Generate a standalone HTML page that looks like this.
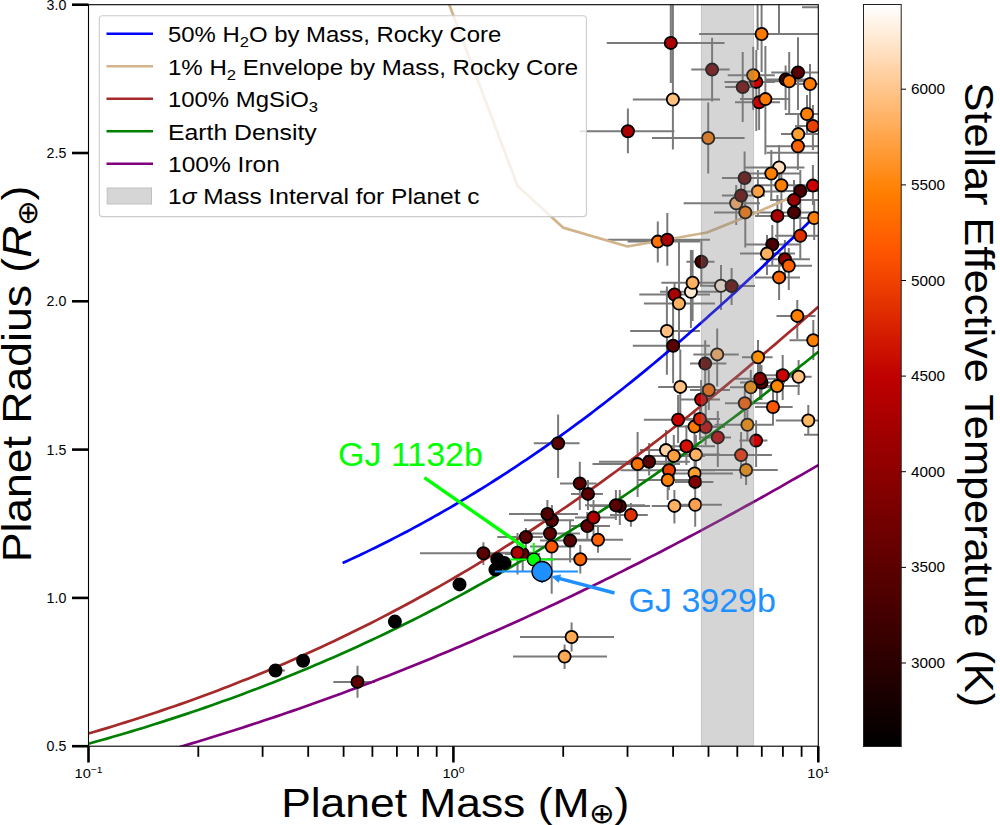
<!DOCTYPE html>
<html><head><meta charset="utf-8"><title>Mass-Radius Diagram</title>
<style>html,body{margin:0;padding:0;background:#fff;overflow:hidden;width:1000px;height:825px;}svg{display:block;}text{font-family:"Liberation Sans", sans-serif;}</style>
</head><body>
<svg width="1000" height="825" viewBox="0 0 1000 825">
<defs><clipPath id="ax"><rect x="88.5" y="4.7" width="729.8" height="741.5"/></clipPath>
<linearGradient id="cb" x1="0" y1="0" x2="0" y2="1"><stop offset="0.00" stop-color="#ffffff"/><stop offset="0.01" stop-color="#fffbf7"/><stop offset="0.02" stop-color="#fff5eb"/><stop offset="0.03" stop-color="#fff1e3"/><stop offset="0.04" stop-color="#ffebd7"/><stop offset="0.05" stop-color="#ffe7cf"/><stop offset="0.06" stop-color="#ffe1c3"/><stop offset="0.07" stop-color="#ffddbb"/><stop offset="0.08" stop-color="#ffd7af"/><stop offset="0.09" stop-color="#ffd1a3"/><stop offset="0.10" stop-color="#ffcd9b"/><stop offset="0.11" stop-color="#ffc78f"/><stop offset="0.12" stop-color="#ffc387"/><stop offset="0.13" stop-color="#ffbd7b"/><stop offset="0.14" stop-color="#ffb973"/><stop offset="0.15" stop-color="#ffb367"/><stop offset="0.16" stop-color="#ffaf5f"/><stop offset="0.17" stop-color="#ffa953"/><stop offset="0.18" stop-color="#ffa347"/><stop offset="0.19" stop-color="#ff9f3f"/><stop offset="0.20" stop-color="#ff9933"/><stop offset="0.21" stop-color="#ff952b"/><stop offset="0.22" stop-color="#ff8f1f"/><stop offset="0.23" stop-color="#ff8b17"/><stop offset="0.24" stop-color="#ff850b"/><stop offset="0.25" stop-color="#ff8103"/><stop offset="0.26" stop-color="#ff7b00"/><stop offset="0.27" stop-color="#ff7500"/><stop offset="0.28" stop-color="#ff7100"/><stop offset="0.29" stop-color="#ff6b00"/><stop offset="0.30" stop-color="#ff6700"/><stop offset="0.31" stop-color="#ff6100"/><stop offset="0.32" stop-color="#ff5d00"/><stop offset="0.33" stop-color="#ff5700"/><stop offset="0.34" stop-color="#fc5100"/><stop offset="0.35" stop-color="#f94d00"/><stop offset="0.36" stop-color="#f44700"/><stop offset="0.37" stop-color="#f24300"/><stop offset="0.38" stop-color="#ed3d00"/><stop offset="0.39" stop-color="#ea3900"/><stop offset="0.40" stop-color="#e53300"/><stop offset="0.41" stop-color="#e22f00"/><stop offset="0.42" stop-color="#de2900"/><stop offset="0.43" stop-color="#da2300"/><stop offset="0.44" stop-color="#d61f00"/><stop offset="0.45" stop-color="#d21900"/><stop offset="0.46" stop-color="#cf1500"/><stop offset="0.47" stop-color="#cb0f00"/><stop offset="0.48" stop-color="#c80b00"/><stop offset="0.49" stop-color="#c30500"/><stop offset="0.50" stop-color="#c00100"/><stop offset="0.51" stop-color="#bb0000"/><stop offset="0.52" stop-color="#b70000"/><stop offset="0.53" stop-color="#b40000"/><stop offset="0.54" stop-color="#b00000"/><stop offset="0.55" stop-color="#ac0000"/><stop offset="0.56" stop-color="#a80000"/><stop offset="0.57" stop-color="#a50000"/><stop offset="0.58" stop-color="#a00000"/><stop offset="0.59" stop-color="#9c0000"/><stop offset="0.60" stop-color="#990000"/><stop offset="0.61" stop-color="#940000"/><stop offset="0.62" stop-color="#920000"/><stop offset="0.63" stop-color="#8d0000"/><stop offset="0.64" stop-color="#8a0000"/><stop offset="0.65" stop-color="#850000"/><stop offset="0.66" stop-color="#820000"/><stop offset="0.67" stop-color="#7e0000"/><stop offset="0.68" stop-color="#7a0000"/><stop offset="0.69" stop-color="#760000"/><stop offset="0.70" stop-color="#720000"/><stop offset="0.71" stop-color="#6f0000"/><stop offset="0.72" stop-color="#6a0000"/><stop offset="0.73" stop-color="#680000"/><stop offset="0.74" stop-color="#630000"/><stop offset="0.75" stop-color="#600000"/><stop offset="0.76" stop-color="#5b0000"/><stop offset="0.77" stop-color="#570000"/><stop offset="0.78" stop-color="#540000"/><stop offset="0.79" stop-color="#500000"/><stop offset="0.80" stop-color="#4d0000"/><stop offset="0.81" stop-color="#480000"/><stop offset="0.82" stop-color="#450000"/><stop offset="0.83" stop-color="#400000"/><stop offset="0.84" stop-color="#3c0000"/><stop offset="0.85" stop-color="#390000"/><stop offset="0.86" stop-color="#350000"/><stop offset="0.87" stop-color="#310000"/><stop offset="0.88" stop-color="#2d0000"/><stop offset="0.89" stop-color="#2a0000"/><stop offset="0.90" stop-color="#260000"/><stop offset="0.91" stop-color="#220000"/><stop offset="0.92" stop-color="#1e0000"/><stop offset="0.93" stop-color="#1a0000"/><stop offset="0.94" stop-color="#160000"/><stop offset="0.95" stop-color="#120000"/><stop offset="0.96" stop-color="#0f0000"/><stop offset="0.97" stop-color="#0a0000"/><stop offset="0.98" stop-color="#080000"/><stop offset="0.99" stop-color="#030000"/><stop offset="1.00" stop-color="#000000"/></linearGradient></defs>
<rect width="1000" height="825" fill="#fff"/>
<g clip-path="url(#ax)">
<path d="M272.0 670.5H284.9M275.5 668.0V673.0M300.0 660.7H306.0M303.1 658.0V663.0M333.3 681.9H375.0M357.5 665.8V697.8M392.0 621.6H398.0M394.9 619.0V624.0M456.0 584.4H462.0M459.5 582.0V587.0M420.0 553.3H511.8M483.4 542.3V565.0M494.0 559.2H500.0M497.3 556.0V562.0M501.0 563.1H507.0M504.5 560.0V566.0M492.0 569.6H498.0M495.4 567.0V572.0M505.0 554.0H540.0M522.7 540.0V572.0M497.0 552.7H537.0M517.5 533.0V574.6M497.3 537.1H542.8M525.9 528.0V560.0M524.0 520.2H574.0M551.9 505.0V545.0M509.0 514.0H578.0M547.4 500.0V528.0M520.0 533.5H580.0M550.0 520.0V548.0M530.0 546.6H575.0M551.7 530.0V593.8M540.0 540.6H600.0M570.1 519.5V562.4M540.4 559.2H630.9M580.3 544.9V573.5M570.0 526.0H610.0M587.3 512.0V540.0M575.0 517.6H615.0M593.5 500.0V535.0M575.0 539.7H623.0M598.0 526.0V552.7M520.0 637.0H614.0M571.6 622.4V651.6M513.0 656.6H607.0M564.6 644.4V669.0M533.8 443.2H579.5M558.1 414.5V477.9M560.0 483.4H596.7M579.8 461.8V510.0M571.0 493.9H602.9M588.0 480.0V510.0M590.0 506.0H650.0M619.8 490.0V525.0M585.0 505.3H645.0M615.9 490.0V520.0M610.0 515.0H647.8M630.9 503.0V526.7M651.7 505.9H700.0M674.4 490.0V523.4M592.5 464.1H680.0M637.6 431.9V496.9M599.0 461.8H690.0M649.1 442.9V475.4M640.0 450.1H700.0M666.0 430.0V470.0M645.0 455.9H705.0M673.8 435.0V480.0M660.0 446.2H715.0M686.4 425.0V465.0M620.5 470.2H715.0M669.0 455.0V490.0M636.7 480.0H700.0M667.7 465.0V500.0M643.9 419.8H710.0M678.1 395.0V442.9M606.8 42.9H724.5M670.8 4.7V83.0M632.8 99.5H720.0M672.9 4.7V149.4M579.5 131.2H674.4M627.9 108.5V153.3M627.6 241.6H700.0M657.8 221.5V262.4M607.5 239.7H710.0M667.3 213.0V265.7M639.3 294.5H710.0M674.5 282.0V305.0M643.9 303.5H715.0M679.0 240.0V350.0M660.0 291.8H720.0M690.9 250.0V328.0M661.4 282.7H720.0M692.6 250.0V321.0M630.2 331.0H700.0M666.9 286.5V374.8M632.8 345.8H710.0M673.1 300.0V383.2M658.2 386.9H705.0M680.3 349.4V420.0M691.3 69.6H729.7M712.1 37.7V101.4M699.1 34.0H818.3M761.6 4.7V72.0M725.1 87.1H753.7M742.7 52.0V122.0M724.5 81.9H774.8M756.3 50.0V131.0M727.7 75.2H774.8M753.2 46.8V110.0M771.2 72.4H818.3M798.0 37.2V110.0M765.0 79.6H810.0M785.6 65.6V110.0M765.0 81.2H815.0M789.2 52.0V115.0M790.0 84.0H818.3M810.0 64.0V110.0M735.0 102.3H780.0M759.1 80.0V130.0M740.0 99.1H790.0M765.4 46.0V154.6M652.0 138.0H744.6M708.2 102.6V173.5M785.0 114.0H818.3M807.0 95.0V135.0M795.0 126.0H818.3M812.9 105.0V150.0M781.0 134.1H818.3M798.2 115.0V155.0M764.8 146.2H818.3M797.9 125.0V170.0M744.6 167.4H804.4M779.1 145.0V190.0M745.0 173.5H800.0M771.3 150.0V200.0M721.9 178.0H770.0M744.6 151.4V210.0M735.0 191.4H785.0M757.9 170.0V215.0M755.0 185.2H805.0M781.4 165.0V210.0M683.6 203.3H760.0M736.2 185.0V225.0M721.9 195.6H765.0M741.1 175.0V220.0M780.0 191.0H818.3M800.3 170.0V215.0M770.0 199.9H818.3M794.0 180.0V220.0M795.0 185.6H818.3M812.9 165.0V205.0M714.0 212.4H770.0M745.3 195.0V247.5M755.0 215.9H800.0M777.4 195.0V240.0M770.0 212.4H818.3M794.0 190.0V235.0M795.0 218.0H818.3M814.2 200.0V240.0M775.0 235.8H818.3M800.3 215.0V260.0M745.0 244.5H800.0M772.3 225.0V265.0M740.0 253.6H795.0M767.0 235.0V275.0M760.0 259.2H810.0M784.9 240.0V280.0M765.0 265.7H812.0M788.8 248.0V290.0M755.0 277.4H800.0M779.1 260.0V300.0M686.4 261.8H714.5M701.4 240.0V285.0M700.0 285.8H745.0M721.0 265.0V310.0M710.0 286.1H755.0M731.6 268.0V305.0M776.5 315.9H815.5M797.3 300.0V339.0M789.5 340.3H818.3M813.3 320.0V360.0M693.3 354.4H738.8M717.2 328.6V386.5M690.0 363.6H726.4M705.2 340.3V390.0M742.0 357.2H772.6M758.0 340.0V380.0M740.0 382.6H785.0M761.5 365.0V400.0M735.0 378.7H785.0M760.0 360.0V400.0M760.0 375.2H805.0M782.7 355.0V400.0M780.0 376.7H811.6M798.6 360.0V395.0M755.0 386.1H800.0M777.1 370.0V405.0M730.0 387.2H775.0M750.8 370.0V405.0M690.0 390.0H730.0M708.8 370.0V410.0M680.0 399.5H720.0M701.1 380.0V420.0M725.0 403.2H770.0M744.8 390.0V420.0M755.0 407.0H792.7M773.0 390.0V425.4M775.8 420.5H818.3M808.3 405.0V435.0M675.0 426.6H715.0M694.5 410.0V445.0M685.0 427.1H725.0M705.7 405.0V445.0M680.0 419.0H720.0M699.9 400.0V440.0M700.0 437.4H731.0M717.8 411.0V467.0M714.7 424.8H773.2M747.4 410.0V440.0M739.4 440.6H767.4M756.1 420.2V467.0M703.0 455.1H771.9M741.1 431.9V478.7M675.0 454.6H720.0M695.9 435.0V475.0M700.4 469.9H777.8M746.1 455.0V485.0M675.0 473.5H732.9M694.6 455.0V490.0M675.0 481.9H713.4M695.2 465.0V500.0M670.0 504.7H721.9M695.2 490.0V526.7M779 4.7V34M802 7.2H818.3M757.6 4.7V50M804 434.8H818.3M766.8 152.7H818.3" stroke="#000" stroke-opacity="0.52" stroke-width="2" fill="none"/>
<polyline points="342.6,563.1 346.6,561.3 350.6,559.4 354.6,557.6 358.6,555.7 362.6,553.8 366.6,551.9 370.6,549.9 374.6,548.0 378.6,546.0 382.6,544.0 386.6,542.0 390.6,540.0 394.6,537.9 398.6,535.9 402.6,533.8 406.6,531.7 410.6,529.6 414.6,527.4 418.6,525.3 422.5,523.1 426.5,520.9 430.5,518.7 434.5,516.4 438.5,514.2 442.5,511.9 446.5,509.6 450.5,507.3 454.5,505.0 458.5,502.6 462.5,500.2 466.5,497.8 470.5,495.4 474.5,493.0 478.5,490.5 482.5,488.1 486.5,485.6 490.5,483.1 494.5,480.5 498.5,478.0 502.5,475.4 506.5,472.8 510.5,470.2 514.5,467.6 518.5,464.9 522.5,462.2 526.5,459.6 530.5,456.8 534.5,454.1 538.5,451.4 542.5,448.6 546.5,445.8 550.5,443.0 554.5,440.2 558.5,437.3 562.5,434.4 566.5,431.5 570.5,428.6 574.5,425.7 578.5,422.7 582.4,419.8 586.4,416.8 590.4,413.8 594.4,410.7 598.4,407.7 602.4,404.6 606.4,401.5 610.4,398.4 614.4,395.3 618.4,392.1 622.4,389.0 626.4,385.8 630.4,382.6 634.4,379.4 638.4,376.1 642.4,372.9 646.4,369.6 650.4,366.3 654.4,363.0 658.4,359.6 662.4,356.3 666.4,352.9 670.4,349.5 674.4,346.1 678.4,342.7 682.4,339.2 686.4,335.8 690.4,332.3 694.4,328.8 698.4,325.3 702.4,321.7 706.4,318.2 710.4,314.6 714.4,311.1 718.4,307.5 722.4,303.8 726.4,300.2 730.4,296.6 734.4,292.9 738.4,289.2 742.3,285.6 746.3,281.8 750.3,278.1 754.3,274.4 758.3,270.7 762.3,266.9 766.3,263.1 770.3,259.3 774.3,255.5 778.3,251.7 782.3,247.9 786.3,244.1 790.3,240.2 794.3,236.4 798.3,232.5 802.3,228.6 806.3,224.7 810.3,220.8 814.3,216.9 818.3,213.0" fill="none" stroke="#0000ff" stroke-width="2.7" stroke-linejoin="round"/>
<polyline points="447.5,0.0 517.6,186.0 563.0,227.6 627.5,246.5 707.0,232.5 752.4,214.3 785.0,200.0 806.4,186.8" fill="none" stroke="#d2b48c" stroke-width="2.7" stroke-linejoin="round"/>
<polyline points="88.5,733.5 94.6,731.7 100.8,729.9 106.9,728.1 113.0,726.2 119.2,724.3 125.3,722.4 131.4,720.5 137.6,718.5 143.7,716.5 149.8,714.5 156.0,712.5 162.1,710.4 168.2,708.3 174.4,706.2 180.5,704.1 186.6,701.9 192.8,699.7 198.9,697.5 205.0,695.2 211.2,693.0 217.3,690.7 223.4,688.3 229.6,686.0 235.7,683.6 241.8,681.1 248.0,678.7 254.1,676.2 260.2,673.7 266.4,671.2 272.5,668.6 278.6,666.0 284.7,663.4 290.9,660.7 297.0,658.0 303.1,655.3 309.3,652.5 315.4,649.7 321.5,646.9 327.7,644.1 333.8,641.2 339.9,638.3 346.1,635.3 352.2,632.3 358.3,629.3 364.5,626.3 370.6,623.2 376.7,620.1 382.9,616.9 389.0,613.8 395.1,610.5 401.3,607.3 407.4,604.0 413.5,600.7 419.7,597.3 425.8,594.0 431.9,590.5 438.1,587.1 444.2,583.6 450.3,580.1 456.5,576.5 462.6,572.9 468.7,569.3 474.9,565.6 481.0,561.9 487.1,558.2 493.3,554.4 499.4,550.6 505.5,546.7 511.7,542.8 517.8,538.9 523.9,535.0 530.1,531.0 536.2,527.0 542.3,522.9 548.5,518.8 554.6,514.7 560.7,510.5 566.9,506.3 573.0,502.1 579.1,497.8 585.3,493.5 591.4,489.2 597.5,484.8 603.7,480.4 609.8,475.9 615.9,471.5 622.1,466.9 628.2,462.4 634.3,457.8 640.4,453.2 646.6,448.6 652.7,443.9 658.8,439.2 665.0,434.4 671.1,429.7 677.2,424.9 683.4,420.0 689.5,415.2 695.6,410.3 701.8,405.3 707.9,400.4 714.0,395.4 720.2,390.4 726.3,385.4 732.4,380.3 738.6,375.2 744.7,370.1 750.8,364.9 757.0,359.7 763.1,354.5 769.2,349.3 775.4,344.1 781.5,338.8 787.6,333.5 793.8,328.2 799.9,322.9 806.0,317.5 812.2,312.2 818.3,306.8" fill="none" stroke="#a52a2a" stroke-width="2.7" stroke-linejoin="round"/>
<polyline points="88.5,743.7 94.6,742.0 100.8,740.3 106.9,738.6 113.0,736.8 119.2,735.0 125.3,733.2 131.4,731.4 137.6,729.5 143.7,727.7 149.8,725.8 156.0,723.8 162.1,721.9 168.2,719.9 174.4,717.9 180.5,715.9 186.6,713.9 192.8,711.8 198.9,709.7 205.0,707.6 211.2,705.5 217.3,703.3 223.4,701.1 229.6,698.9 235.7,696.7 241.8,694.4 248.0,692.1 254.1,689.8 260.2,687.4 266.4,685.1 272.5,682.7 278.6,680.2 284.7,677.8 290.9,675.3 297.0,672.8 303.1,670.3 309.3,667.7 315.4,665.1 321.5,662.5 327.7,659.8 333.8,657.2 339.9,654.5 346.1,651.7 352.2,649.0 358.3,646.2 364.5,643.3 370.6,640.5 376.7,637.6 382.9,634.7 389.0,631.7 395.1,628.8 401.3,625.8 407.4,622.7 413.5,619.7 419.7,616.6 425.8,613.5 431.9,610.3 438.1,607.1 444.2,603.9 450.3,600.6 456.5,597.4 462.6,594.1 468.7,590.7 474.9,587.3 481.0,583.9 487.1,580.5 493.3,577.0 499.4,573.6 505.5,570.0 511.7,566.5 517.8,562.9 523.9,559.3 530.1,555.6 536.2,551.9 542.3,548.2 548.5,544.5 554.6,540.7 560.7,536.9 566.9,533.0 573.0,529.2 579.1,525.3 585.3,521.4 591.4,517.4 597.5,513.4 603.7,509.4 609.8,505.3 615.9,501.3 622.1,497.2 628.2,493.0 634.3,488.8 640.4,484.7 646.6,480.4 652.7,476.2 658.8,471.9 665.0,467.6 671.1,463.3 677.2,458.9 683.4,454.5 689.5,450.1 695.6,445.6 701.8,441.2 707.9,436.7 714.0,432.2 720.2,427.6 726.3,423.0 732.4,418.5 738.6,413.8 744.7,409.2 750.8,404.5 757.0,399.9 763.1,395.2 769.2,390.4 775.4,385.7 781.5,380.9 787.6,376.1 793.8,371.3 799.9,366.5 806.0,361.7 812.2,356.8 818.3,351.9" fill="none" stroke="#008000" stroke-width="2.7" stroke-linejoin="round"/>
<polyline points="152.8,754.8 158.3,753.2 163.9,751.6 169.5,750.0 175.1,748.3 180.7,746.7 186.3,745.0 191.9,743.4 197.5,741.7 203.1,740.0 208.7,738.3 214.3,736.5 219.9,734.8 225.5,733.0 231.1,731.3 236.6,729.5 242.2,727.7 247.8,725.9 253.4,724.0 259.0,722.2 264.6,720.3 270.2,718.5 275.8,716.6 281.4,714.7 287.0,712.8 292.6,710.9 298.2,708.9 303.8,707.0 309.4,705.0 314.9,703.0 320.5,701.0 326.1,699.0 331.7,697.0 337.3,694.9 342.9,692.9 348.5,690.8 354.1,688.7 359.7,686.6 365.3,684.5 370.9,682.4 376.5,680.2 382.1,678.0 387.7,675.9 393.2,673.7 398.8,671.5 404.4,669.2 410.0,667.0 415.6,664.8 421.2,662.5 426.8,660.2 432.4,657.9 438.0,655.6 443.6,653.3 449.2,650.9 454.8,648.6 460.4,646.2 466.0,643.8 471.5,641.4 477.1,639.0 482.7,636.6 488.3,634.1 493.9,631.7 499.5,629.2 505.1,626.7 510.7,624.2 516.3,621.7 521.9,619.2 527.5,616.6 533.1,614.1 538.7,611.5 544.3,608.9 549.8,606.3 555.4,603.7 561.0,601.0 566.6,598.4 572.2,595.7 577.8,593.0 583.4,590.3 589.0,587.6 594.6,584.9 600.2,582.2 605.8,579.4 611.4,576.7 617.0,573.9 622.6,571.1 628.1,568.3 633.7,565.5 639.3,562.7 644.9,559.8 650.5,556.9 656.1,554.1 661.7,551.2 667.3,548.3 672.9,545.4 678.5,542.4 684.1,539.5 689.7,536.5 695.3,533.6 700.9,530.6 706.4,527.6 712.0,524.6 717.6,521.6 723.2,518.6 728.8,515.5 734.4,512.5 740.0,509.4 745.6,506.3 751.2,503.2 756.8,500.1 762.4,497.0 768.0,493.9 773.6,490.7 779.2,487.6 784.7,484.4 790.3,481.2 795.9,478.0 801.5,474.8 807.1,471.6 812.7,468.4 818.3,465.2" fill="none" stroke="#800080" stroke-width="2.7" stroke-linejoin="round"/>
<circle cx="275.5" cy="670.5" r="6.1" fill="#000000" stroke="#000" stroke-width="1.8"/>
<circle cx="303.1" cy="660.7" r="6.1" fill="#000000" stroke="#000" stroke-width="1.8"/>
<circle cx="357.5" cy="681.9" r="6.1" fill="#600000" stroke="#000" stroke-width="1.8"/>
<circle cx="394.9" cy="621.6" r="6.1" fill="#000000" stroke="#000" stroke-width="1.8"/>
<circle cx="459.5" cy="584.4" r="6.1" fill="#000000" stroke="#000" stroke-width="1.8"/>
<circle cx="483.4" cy="553.3" r="6.1" fill="#5a0000" stroke="#000" stroke-width="1.8"/>
<circle cx="497.3" cy="559.2" r="6.1" fill="#000000" stroke="#000" stroke-width="1.8"/>
<circle cx="504.5" cy="563.1" r="6.1" fill="#000000" stroke="#000" stroke-width="1.8"/>
<circle cx="495.4" cy="569.6" r="6.1" fill="#000000" stroke="#000" stroke-width="1.8"/>
<circle cx="522.7" cy="554.0" r="6.1" fill="#6a0000" stroke="#000" stroke-width="1.8"/>
<circle cx="517.5" cy="552.7" r="6.1" fill="#b00000" stroke="#000" stroke-width="1.8"/>
<circle cx="525.9" cy="537.1" r="6.1" fill="#5a0000" stroke="#000" stroke-width="1.8"/>
<circle cx="551.9" cy="520.2" r="6.1" fill="#5a0000" stroke="#000" stroke-width="1.8"/>
<circle cx="547.4" cy="514.0" r="6.1" fill="#500000" stroke="#000" stroke-width="1.8"/>
<circle cx="550.0" cy="533.5" r="6.1" fill="#600000" stroke="#000" stroke-width="1.8"/>
<circle cx="551.7" cy="546.6" r="6.1" fill="#ff5500" stroke="#000" stroke-width="1.8"/>
<circle cx="570.1" cy="540.6" r="6.1" fill="#5a0000" stroke="#000" stroke-width="1.8"/>
<circle cx="580.3" cy="559.2" r="6.1" fill="#ff6600" stroke="#000" stroke-width="1.8"/>
<circle cx="587.3" cy="526.0" r="6.1" fill="#600000" stroke="#000" stroke-width="1.8"/>
<circle cx="593.5" cy="517.6" r="6.1" fill="#b00000" stroke="#000" stroke-width="1.8"/>
<circle cx="598.0" cy="539.7" r="6.1" fill="#ff6000" stroke="#000" stroke-width="1.8"/>
<circle cx="571.6" cy="637.0" r="6.1" fill="#ffaa55" stroke="#000" stroke-width="1.8"/>
<circle cx="564.6" cy="656.6" r="6.1" fill="#ffaa55" stroke="#000" stroke-width="1.8"/>
<circle cx="558.1" cy="443.2" r="6.1" fill="#5a0000" stroke="#000" stroke-width="1.8"/>
<circle cx="579.8" cy="483.4" r="6.1" fill="#5a0000" stroke="#000" stroke-width="1.8"/>
<circle cx="588.0" cy="493.9" r="6.1" fill="#5a0000" stroke="#000" stroke-width="1.8"/>
<circle cx="619.8" cy="506.0" r="6.1" fill="#5a0000" stroke="#000" stroke-width="1.8"/>
<circle cx="615.9" cy="505.3" r="6.1" fill="#5a0000" stroke="#000" stroke-width="1.8"/>
<circle cx="630.9" cy="515.0" r="6.1" fill="#e03000" stroke="#000" stroke-width="1.8"/>
<circle cx="674.4" cy="505.9" r="6.1" fill="#ffb060" stroke="#000" stroke-width="1.8"/>
<circle cx="637.6" cy="464.1" r="6.1" fill="#ff7000" stroke="#000" stroke-width="1.8"/>
<circle cx="649.1" cy="461.8" r="6.1" fill="#5a0000" stroke="#000" stroke-width="1.8"/>
<circle cx="666.0" cy="450.1" r="6.1" fill="#ffd0a0" stroke="#000" stroke-width="1.8"/>
<circle cx="673.8" cy="455.9" r="6.1" fill="#ffa040" stroke="#000" stroke-width="1.8"/>
<circle cx="686.4" cy="446.2" r="6.1" fill="#d81000" stroke="#000" stroke-width="1.8"/>
<circle cx="669.0" cy="470.2" r="6.1" fill="#e84000" stroke="#000" stroke-width="1.8"/>
<circle cx="667.7" cy="480.0" r="6.1" fill="#ff8000" stroke="#000" stroke-width="1.8"/>
<circle cx="678.1" cy="419.8" r="6.1" fill="#cc0000" stroke="#000" stroke-width="1.8"/>
<circle cx="670.8" cy="42.9" r="6.1" fill="#aa0000" stroke="#000" stroke-width="1.8"/>
<circle cx="672.9" cy="99.5" r="6.1" fill="#ffc080" stroke="#000" stroke-width="1.8"/>
<circle cx="627.9" cy="131.2" r="6.1" fill="#aa0000" stroke="#000" stroke-width="1.8"/>
<circle cx="657.8" cy="241.6" r="6.1" fill="#ff7000" stroke="#000" stroke-width="1.8"/>
<circle cx="667.3" cy="239.7" r="6.1" fill="#aa0000" stroke="#000" stroke-width="1.8"/>
<circle cx="674.5" cy="294.5" r="6.1" fill="#aa0000" stroke="#000" stroke-width="1.8"/>
<circle cx="679.0" cy="303.5" r="6.1" fill="#ffb060" stroke="#000" stroke-width="1.8"/>
<circle cx="690.9" cy="291.8" r="6.1" fill="#ffe8d0" stroke="#000" stroke-width="1.8"/>
<circle cx="692.6" cy="282.7" r="6.1" fill="#ffb060" stroke="#000" stroke-width="1.8"/>
<circle cx="666.9" cy="331.0" r="6.1" fill="#ffc080" stroke="#000" stroke-width="1.8"/>
<circle cx="673.1" cy="345.8" r="6.1" fill="#5a0000" stroke="#000" stroke-width="1.8"/>
<circle cx="680.3" cy="386.9" r="6.1" fill="#ffc080" stroke="#000" stroke-width="1.8"/>
<circle cx="712.1" cy="69.6" r="6.1" fill="#770000" stroke="#000" stroke-width="1.8"/>
<circle cx="761.6" cy="34.0" r="6.1" fill="#ff7800" stroke="#000" stroke-width="1.8"/>
<circle cx="742.7" cy="87.1" r="6.1" fill="#770000" stroke="#000" stroke-width="1.8"/>
<circle cx="756.3" cy="81.9" r="6.1" fill="#cc0000" stroke="#000" stroke-width="1.8"/>
<circle cx="753.2" cy="75.2" r="6.1" fill="#ff8800" stroke="#000" stroke-width="1.8"/>
<circle cx="798.0" cy="72.4" r="6.1" fill="#5a0000" stroke="#000" stroke-width="1.8"/>
<circle cx="785.6" cy="79.6" r="6.1" fill="#4a0000" stroke="#000" stroke-width="1.8"/>
<circle cx="789.2" cy="81.2" r="6.1" fill="#ff7800" stroke="#000" stroke-width="1.8"/>
<circle cx="810.0" cy="84.0" r="6.1" fill="#ff7800" stroke="#000" stroke-width="1.8"/>
<circle cx="759.1" cy="102.3" r="6.1" fill="#cc0000" stroke="#000" stroke-width="1.8"/>
<circle cx="765.4" cy="99.1" r="6.1" fill="#ff7800" stroke="#000" stroke-width="1.8"/>
<circle cx="708.2" cy="138.0" r="6.1" fill="#ff7700" stroke="#000" stroke-width="1.8"/>
<circle cx="807.0" cy="114.0" r="6.1" fill="#ff8000" stroke="#000" stroke-width="1.8"/>
<circle cx="812.9" cy="126.0" r="6.1" fill="#e84000" stroke="#000" stroke-width="1.8"/>
<circle cx="798.2" cy="134.1" r="6.1" fill="#ffa030" stroke="#000" stroke-width="1.8"/>
<circle cx="797.9" cy="146.2" r="6.1" fill="#ff6000" stroke="#000" stroke-width="1.8"/>
<circle cx="779.1" cy="167.4" r="6.1" fill="#ffe0c0" stroke="#000" stroke-width="1.8"/>
<circle cx="771.3" cy="173.5" r="6.1" fill="#ff8000" stroke="#000" stroke-width="1.8"/>
<circle cx="744.6" cy="178.0" r="6.1" fill="#600000" stroke="#000" stroke-width="1.8"/>
<circle cx="757.9" cy="191.4" r="6.1" fill="#ffa040" stroke="#000" stroke-width="1.8"/>
<circle cx="781.4" cy="185.2" r="6.1" fill="#ff8000" stroke="#000" stroke-width="1.8"/>
<circle cx="736.2" cy="203.3" r="6.1" fill="#ffb068" stroke="#000" stroke-width="1.8"/>
<circle cx="741.1" cy="195.6" r="6.1" fill="#600000" stroke="#000" stroke-width="1.8"/>
<circle cx="800.3" cy="191.0" r="6.1" fill="#4a0000" stroke="#000" stroke-width="1.8"/>
<circle cx="794.0" cy="199.9" r="6.1" fill="#990000" stroke="#000" stroke-width="1.8"/>
<circle cx="812.9" cy="185.6" r="6.1" fill="#cc0000" stroke="#000" stroke-width="1.8"/>
<circle cx="745.3" cy="212.4" r="6.1" fill="#ff7700" stroke="#000" stroke-width="1.8"/>
<circle cx="777.4" cy="215.9" r="6.1" fill="#aa0000" stroke="#000" stroke-width="1.8"/>
<circle cx="794.0" cy="212.4" r="6.1" fill="#4a0000" stroke="#000" stroke-width="1.8"/>
<circle cx="814.2" cy="218.0" r="6.1" fill="#ff8000" stroke="#000" stroke-width="1.8"/>
<circle cx="800.3" cy="235.8" r="6.1" fill="#e03000" stroke="#000" stroke-width="1.8"/>
<circle cx="772.3" cy="244.5" r="6.1" fill="#4a0000" stroke="#000" stroke-width="1.8"/>
<circle cx="767.0" cy="253.6" r="6.1" fill="#ffb060" stroke="#000" stroke-width="1.8"/>
<circle cx="784.9" cy="259.2" r="6.1" fill="#880000" stroke="#000" stroke-width="1.8"/>
<circle cx="788.8" cy="265.7" r="6.1" fill="#ff6000" stroke="#000" stroke-width="1.8"/>
<circle cx="779.1" cy="277.4" r="6.1" fill="#ff6600" stroke="#000" stroke-width="1.8"/>
<circle cx="701.4" cy="261.8" r="6.1" fill="#4a0000" stroke="#000" stroke-width="1.8"/>
<circle cx="721.0" cy="285.8" r="6.1" fill="#ffecdf" stroke="#000" stroke-width="1.8"/>
<circle cx="731.6" cy="286.1" r="6.1" fill="#600000" stroke="#000" stroke-width="1.8"/>
<circle cx="797.3" cy="315.9" r="6.1" fill="#ff8000" stroke="#000" stroke-width="1.8"/>
<circle cx="813.3" cy="340.3" r="6.1" fill="#ff8000" stroke="#000" stroke-width="1.8"/>
<circle cx="717.2" cy="354.4" r="6.1" fill="#ffb065" stroke="#000" stroke-width="1.8"/>
<circle cx="705.2" cy="363.6" r="6.1" fill="#600000" stroke="#000" stroke-width="1.8"/>
<circle cx="758.0" cy="357.2" r="6.1" fill="#ff9000" stroke="#000" stroke-width="1.8"/>
<circle cx="761.5" cy="382.6" r="6.1" fill="#5a0000" stroke="#000" stroke-width="1.8"/>
<circle cx="760.0" cy="378.7" r="6.1" fill="#8b0000" stroke="#000" stroke-width="1.8"/>
<circle cx="782.7" cy="375.2" r="6.1" fill="#cc0000" stroke="#000" stroke-width="1.8"/>
<circle cx="798.6" cy="376.7" r="6.1" fill="#ffc080" stroke="#000" stroke-width="1.8"/>
<circle cx="777.1" cy="386.1" r="6.1" fill="#ff8800" stroke="#000" stroke-width="1.8"/>
<circle cx="750.8" cy="387.2" r="6.1" fill="#ff9000" stroke="#000" stroke-width="1.8"/>
<circle cx="708.8" cy="390.0" r="6.1" fill="#ff6800" stroke="#000" stroke-width="1.8"/>
<circle cx="701.1" cy="399.5" r="6.1" fill="#cc0000" stroke="#000" stroke-width="1.8"/>
<circle cx="744.8" cy="403.2" r="6.1" fill="#ff5e00" stroke="#000" stroke-width="1.8"/>
<circle cx="773.0" cy="407.0" r="6.1" fill="#ff5500" stroke="#000" stroke-width="1.8"/>
<circle cx="808.3" cy="420.5" r="6.1" fill="#ffb860" stroke="#000" stroke-width="1.8"/>
<circle cx="694.5" cy="426.6" r="6.1" fill="#ff7a00" stroke="#000" stroke-width="1.8"/>
<circle cx="705.7" cy="427.1" r="6.1" fill="#bc0000" stroke="#000" stroke-width="1.8"/>
<circle cx="699.9" cy="419.0" r="6.1" fill="#e02000" stroke="#000" stroke-width="1.8"/>
<circle cx="717.8" cy="437.4" r="6.1" fill="#bc0000" stroke="#000" stroke-width="1.8"/>
<circle cx="747.4" cy="424.8" r="6.1" fill="#ff8f00" stroke="#000" stroke-width="1.8"/>
<circle cx="756.1" cy="440.6" r="6.1" fill="#cc0000" stroke="#000" stroke-width="1.8"/>
<circle cx="741.1" cy="455.1" r="6.1" fill="#f82d00" stroke="#000" stroke-width="1.8"/>
<circle cx="695.9" cy="454.6" r="6.1" fill="#ffb060" stroke="#000" stroke-width="1.8"/>
<circle cx="746.1" cy="469.9" r="6.1" fill="#ff8f00" stroke="#000" stroke-width="1.8"/>
<circle cx="694.6" cy="473.5" r="6.1" fill="#ffa030" stroke="#000" stroke-width="1.8"/>
<circle cx="695.2" cy="481.9" r="6.1" fill="#800000" stroke="#000" stroke-width="1.8"/>
<circle cx="695.2" cy="504.7" r="6.1" fill="#ffa050" stroke="#000" stroke-width="1.8"/>
<path d="M510.3 559.5H554.5M533.8 543V575" stroke="#00ff00" stroke-width="2"/>
<circle cx="533.8" cy="559.5" r="6.4" fill="#00ff00" stroke="#000" stroke-width="1.4"/>
<path d="M494.7 571.5H578M542 561V583" stroke="#1e90ff" stroke-width="2"/>
<circle cx="542" cy="571.5" r="10" fill="#1e90ff" stroke="#000" stroke-width="1.3"/>
<rect x="701.4" y="2.7" width="52.2" height="745.5" fill="#808080" fill-opacity="0.33" stroke="#808080" stroke-opacity="0.33" stroke-width="1"/>
</g>
<rect x="88.5" y="4.7" width="729.8" height="741.5" fill="none" stroke="#000" stroke-width="1.1"/>
<line x1="72" y1="746.2" x2="88.5" y2="746.2" stroke="#000" stroke-width="2.6"/>
<text transform="translate(66.30 751.30)" font-size="14.20" text-anchor="end" fill="#000">0.5</text>
<line x1="72" y1="597.9" x2="88.5" y2="597.9" stroke="#000" stroke-width="2.6"/>
<text transform="translate(66.30 603.00)" font-size="14.20" text-anchor="end" fill="#000">1.0</text>
<line x1="72" y1="449.6" x2="88.5" y2="449.6" stroke="#000" stroke-width="2.6"/>
<text transform="translate(66.30 454.70)" font-size="14.20" text-anchor="end" fill="#000">1.5</text>
<line x1="72" y1="301.3" x2="88.5" y2="301.3" stroke="#000" stroke-width="2.6"/>
<text transform="translate(66.30 306.40)" font-size="14.20" text-anchor="end" fill="#000">2.0</text>
<line x1="72" y1="153.0" x2="88.5" y2="153.0" stroke="#000" stroke-width="2.6"/>
<text transform="translate(66.30 158.10)" font-size="14.20" text-anchor="end" fill="#000">2.5</text>
<line x1="72" y1="4.7" x2="88.5" y2="4.7" stroke="#000" stroke-width="2.6"/>
<text transform="translate(66.30 9.80)" font-size="14.20" text-anchor="end" fill="#000">3.0</text>
<line x1="88.5" y1="746.2" x2="88.5" y2="762.5" stroke="#000" stroke-width="2.6"/>
<text transform="translate(88.50 777.50) scale(1.0800 1)" font-size="13.50" text-anchor="middle" fill="#000">10<tspan font-size="9.5" dy="-5">−1</tspan></text>
<line x1="453.4" y1="746.2" x2="453.4" y2="762.5" stroke="#000" stroke-width="2.6"/>
<text transform="translate(453.40 777.50) scale(1.0800 1)" font-size="13.50" text-anchor="middle" fill="#000">10<tspan font-size="9.5" dy="-5">0</tspan></text>
<line x1="818.3" y1="746.2" x2="818.3" y2="762.5" stroke="#000" stroke-width="2.6"/>
<text transform="translate(818.30 777.50) scale(1.0800 1)" font-size="13.50" text-anchor="middle" fill="#000">10<tspan font-size="9.5" dy="-5">1</tspan></text>
<line x1="198.3" y1="746.2" x2="198.3" y2="756.8" stroke="#000" stroke-width="1.8"/>
<line x1="262.6" y1="746.2" x2="262.6" y2="756.8" stroke="#000" stroke-width="1.8"/>
<line x1="308.2" y1="746.2" x2="308.2" y2="756.8" stroke="#000" stroke-width="1.8"/>
<line x1="343.6" y1="746.2" x2="343.6" y2="756.8" stroke="#000" stroke-width="1.8"/>
<line x1="372.4" y1="746.2" x2="372.4" y2="756.8" stroke="#000" stroke-width="1.8"/>
<line x1="396.9" y1="746.2" x2="396.9" y2="756.8" stroke="#000" stroke-width="1.8"/>
<line x1="418.0" y1="746.2" x2="418.0" y2="756.8" stroke="#000" stroke-width="1.8"/>
<line x1="436.7" y1="746.2" x2="436.7" y2="756.8" stroke="#000" stroke-width="1.8"/>
<line x1="563.2" y1="746.2" x2="563.2" y2="756.8" stroke="#000" stroke-width="1.8"/>
<line x1="627.5" y1="746.2" x2="627.5" y2="756.8" stroke="#000" stroke-width="1.8"/>
<line x1="673.1" y1="746.2" x2="673.1" y2="756.8" stroke="#000" stroke-width="1.8"/>
<line x1="708.5" y1="746.2" x2="708.5" y2="756.8" stroke="#000" stroke-width="1.8"/>
<line x1="737.3" y1="746.2" x2="737.3" y2="756.8" stroke="#000" stroke-width="1.8"/>
<line x1="761.8" y1="746.2" x2="761.8" y2="756.8" stroke="#000" stroke-width="1.8"/>
<line x1="782.9" y1="746.2" x2="782.9" y2="756.8" stroke="#000" stroke-width="1.8"/>
<line x1="801.6" y1="746.2" x2="801.6" y2="756.8" stroke="#000" stroke-width="1.8"/>
<text transform="translate(455.20 817.00) scale(1.0960 1)" font-size="40.50" text-anchor="middle" fill="#000">Planet Mass (M<tspan font-size="28" dy="6">⊕</tspan><tspan dy="-6">)</tspan></text>
<text transform="translate(31.30 374.00) rotate(-90) scale(1.1000 1)" font-size="40.50" text-anchor="middle" fill="#000">Planet Radius (<tspan font-style="italic">R</tspan><tspan font-size="28" dy="6">⊕</tspan><tspan dy="-6">)</tspan></text>
<rect x="863.5" y="4.5" width="37.7" height="742" fill="url(#cb)" stroke="#222" stroke-width="1"/>
<line x1="901.2" y1="663.0" x2="906" y2="663.0" stroke="#000" stroke-width="1"/>
<text transform="translate(911.00 668.10) scale(1.0800 1)" font-size="14.20" text-anchor="start" fill="#000">3000</text>
<line x1="901.2" y1="567.4" x2="906" y2="567.4" stroke="#000" stroke-width="1"/>
<text transform="translate(911.00 572.47) scale(1.0800 1)" font-size="14.20" text-anchor="start" fill="#000">3500</text>
<line x1="901.2" y1="471.7" x2="906" y2="471.7" stroke="#000" stroke-width="1"/>
<text transform="translate(911.00 476.84) scale(1.0800 1)" font-size="14.20" text-anchor="start" fill="#000">4000</text>
<line x1="901.2" y1="376.1" x2="906" y2="376.1" stroke="#000" stroke-width="1"/>
<text transform="translate(911.00 381.21) scale(1.0800 1)" font-size="14.20" text-anchor="start" fill="#000">4500</text>
<line x1="901.2" y1="280.5" x2="906" y2="280.5" stroke="#000" stroke-width="1"/>
<text transform="translate(911.00 285.58) scale(1.0800 1)" font-size="14.20" text-anchor="start" fill="#000">5000</text>
<line x1="901.2" y1="184.9" x2="906" y2="184.9" stroke="#000" stroke-width="1"/>
<text transform="translate(911.00 189.95) scale(1.0800 1)" font-size="14.20" text-anchor="start" fill="#000">5500</text>
<line x1="901.2" y1="89.2" x2="906" y2="89.2" stroke="#000" stroke-width="1"/>
<text transform="translate(911.00 94.32) scale(1.0800 1)" font-size="14.20" text-anchor="start" fill="#000">6000</text>
<text transform="translate(965.40 394.90) rotate(90) scale(1.0700 1)" font-size="40.50" text-anchor="middle" fill="#000">Stellar Effective Temperature (K)</text>
<rect x="99.3" y="15.8" width="487.1" height="200.8" rx="3" ry="3" fill="#fff" fill-opacity="0.8" stroke="#cccccc" stroke-width="1.1"/>
<line x1="106.5" y1="33.7" x2="153" y2="33.7" stroke="#0000ff" stroke-width="2.5"/>
<text transform="translate(168.00 42.00) scale(1.0680 1)" font-size="22.40" text-anchor="start" fill="#000">50% H<tspan font-size="15.5" dy="5">2</tspan><tspan dy="-5">O by Mass, Rocky Core</tspan></text>
<line x1="106.5" y1="66.2" x2="153" y2="66.2" stroke="#d2b48c" stroke-width="2.5"/>
<text transform="translate(168.00 74.50) scale(1.0740 1)" font-size="22.40" text-anchor="start" fill="#000">1% H<tspan font-size="15.5" dy="5">2</tspan><tspan dy="-5"> Envelope by Mass, Rocky Core</tspan></text>
<line x1="106.5" y1="98.7" x2="153" y2="98.7" stroke="#a52a2a" stroke-width="2.5"/>
<text transform="translate(168.00 107.00) scale(1.0670 1)" font-size="22.40" text-anchor="start" fill="#000">100% MgSiO<tspan font-size="15.5" dy="5">3</tspan></text>
<line x1="106.5" y1="131.2" x2="153" y2="131.2" stroke="#008000" stroke-width="2.5"/>
<text transform="translate(168.00 139.50) scale(1.1070 1)" font-size="22.40" text-anchor="start" fill="#000">Earth Density</text>
<line x1="106.5" y1="163.7" x2="153" y2="163.7" stroke="#800080" stroke-width="2.5"/>
<text transform="translate(168.00 172.00) scale(1.0960 1)" font-size="22.40" text-anchor="start" fill="#000">100% Iron</text>
<rect x="107.2" y="188" width="44.3" height="16" fill="#d6d6d6" stroke="#c0c0c0" stroke-width="1"/>
<text transform="translate(168.00 204.30) scale(1.0940 1)" font-size="22.40" text-anchor="start" fill="#000">1<tspan font-style="italic">σ</tspan> Mass Interval for Planet c</text>
<line x1="424.4" y1="477.6" x2="525" y2="547.6" stroke="#00ff00" stroke-width="3.4"/>
<text x="338" y="466" font-size="34" fill="#00ff00">GJ 1132b</text>
<line x1="614.5" y1="593" x2="558" y2="578.2" stroke="#1e90ff" stroke-width="3.4"/>
<path d="M551.8 576.6 L560.6 574.9 L558.6 582.3 Z" fill="#1e90ff" stroke="#1e90ff" stroke-width="0.8" stroke-linejoin="miter"/>
<text x="628.5" y="612" font-size="34" fill="#1e90ff">GJ 3929b</text>
</svg>
</body></html>
